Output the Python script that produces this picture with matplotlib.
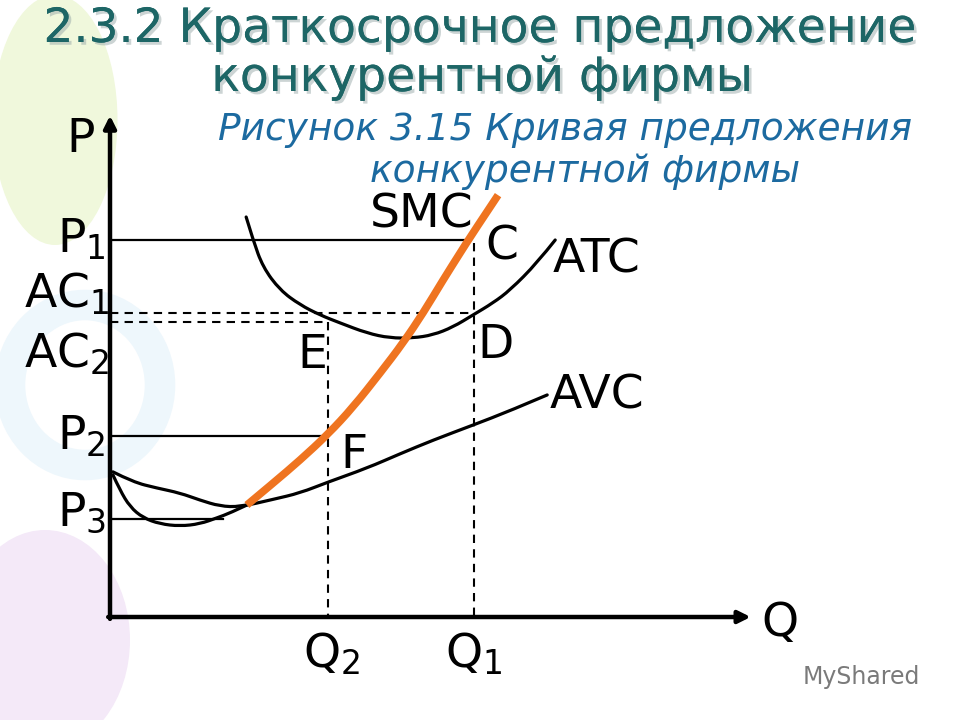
import matplotlib
matplotlib.use("Agg")
import matplotlib.pyplot as plt
import matplotlib.patheffects as pe
from matplotlib.patches import Ellipse, PathPatch
from matplotlib.path import Path

plt.rcParams["font.family"] = ["DejaVu Sans"]
plt.rcParams["mathtext.fontset"] = "dejavusans"

# curves (Q, P)
atc_q = [3.74, 3.93, 4.20, 4.67, 5.22, 5.77, 6.32, 7.06, 7.69, 8.32, 8.87, 9.42, 9.97, 10.52, 10.99, 11.73, 12.23]
atc_p = [10.61, 10.0, 9.28, 8.67, 8.28, 8.01, 7.80, 7.53, 7.40, 7.40, 7.48, 7.69, 8.01, 8.33, 8.67, 9.39, 10.0]

smc_q = [3.76, 4.48, 5.22, 5.99, 6.68, 7.42, 8.05, 8.60, 9.15, 9.62, 9.97, 10.66]
smc_p = [2.97, 3.55, 4.16, 4.85, 5.57, 6.47, 7.27, 8.06, 8.94, 9.66, 10.19, 11.19]

mc_low_q = [0.08, 0.27, 0.55, 0.91, 1.37, 1.92, 2.47, 2.94, 3.30, 3.76]
mc_low_p = [3.77, 3.37, 2.92, 2.63, 2.47, 2.41, 2.47, 2.63, 2.76, 2.97]

avc_q = [0.08, 0.63, 1.29, 1.92, 2.47, 3.02, 3.57, 4.48, 5.22, 5.99, 7.06, 7.97, 8.87, 9.97, 10.99, 12.01]
avc_p = [3.85, 3.58, 3.42, 3.29, 3.10, 2.94, 2.92, 3.12, 3.29, 3.58, 3.95, 4.33, 4.69, 5.09, 5.47, 5.89]

# price levels and quantities
P1, AC1, AC2, P2, P3 = 10.0, 8.06, 7.82, 4.80, 2.60
Q1, Q2 = 10.0, 6.0
P1_END, P3_END = 9.89, 3.1
P_TOP, Q_END = 13.3, 17.6

ORANGE = "#ef7420"
TEAL = "#1d6666"
BLUE = "#1c6aa0"


def main():
    fig = plt.figure(figsize=(9.6, 7.2), dpi=100)
    draw_background(fig)
    ax = fig.add_axes([0, 0, 1, 1])
    ax.set_xlim(-3.022, 23.35)
    ax.set_ylim(-2.732, 16.366)
    ax.axis("off")
    ax.patch.set_alpha(0)

    plot_data(ax)
    set_labels(ax)
    set_titles(fig)
    plt.savefig("out.png", dpi=100)


def draw_background(fig):
    bg = fig.add_axes([0, 0, 1, 1], zorder=-1)
    bg.set_xlim(0, 960)
    bg.set_ylim(720, 0)
    bg.axis("off")
    bg.add_patch(Ellipse((55, 120), 125, 250, color="#f0f8dc", lw=0))
    bg.add_patch(Ellipse((85, 385), 150, 160, fill=False, ec="#eef7fc", lw=22))
    bg.add_patch(Ellipse((45, 640), 170, 220, color="#f4e9f8", lw=0))


def smooth_curve(ax, xs, ys, **kw):
    # quadratic bezier through midpoints, drawn by matplotlib's Path
    pts = list(zip(xs, ys))
    verts = [pts[0]]
    codes = [Path.MOVETO]
    for i in range(1, len(pts) - 1):
        mid = ((pts[i][0] + pts[i + 1][0]) / 2, (pts[i][1] + pts[i + 1][1]) / 2)
        if i == len(pts) - 2:
            mid = pts[-1]
        verts += [pts[i], mid]
        codes += [Path.CURVE3, Path.CURVE3]
    ax.add_patch(PathPatch(Path(verts, codes), fill=False, **kw))


def plot_data(ax):
    # axes with arrows
    arrow = dict(arrowstyle="-|>", lw=3.2, color="black", mutation_scale=18, shrinkA=0, shrinkB=0)
    ax.annotate("", xy=(0, P_TOP), xytext=(0, -0.05), arrowprops=arrow)
    ax.annotate("", xy=(Q_END, 0), xytext=(-0.05, 0), arrowprops=arrow)

    # solid price lines
    ax.plot([0, P1_END], [P1, P1], color="black", lw=1.6)
    ax.plot([0, Q2], [P2, P2], color="black", lw=1.6)
    ax.plot([0, P3_END], [P3, P3], color="black", lw=1.6)

    # dashed guides
    dash = (0, (4, 3))
    ax.plot([0, Q1], [AC1, AC1], color="black", lw=1.5, ls=dash)
    ax.plot([0, Q2], [AC2, AC2], color="black", lw=1.5, ls=dash)
    ax.plot([Q1, Q1], [9.92, 0], color="black", lw=1.5, ls=dash)
    ax.plot([Q2, Q2], [AC2, 0], color="black", lw=1.5, ls=dash)

    # cost curves
    smooth_curve(ax, atc_q, atc_p, ec="black", lw=2.3, capstyle="round")
    smooth_curve(ax, avc_q, avc_p, ec="black", lw=2.3, capstyle="round")
    smooth_curve(ax, mc_low_q, mc_low_p, ec="black", lw=2.3, capstyle="round")
    smooth_curve(ax, smc_q, smc_p, ec=ORANGE, lw=5.5, capstyle="butt", zorder=5)


def set_labels(ax):
    kw = dict(fontsize=34, color="black", va="baseline")
    ax.text(-0.82, 12.33, "P", ha="center", **kw)
    ax.text(18.41, -0.50, "Q", ha="center", **kw)
    ax.text(-0.11, 9.68, r"$\mathrm{P}_1$", ha="right", **kw)
    ax.text(-0.02, 8.20, r"$\mathrm{AC}_1$", ha="right", **kw)
    ax.text(-0.02, 6.63, r"$\mathrm{AC}_2$", ha="right", **kw)
    ax.text(-0.11, 4.43, r"$\mathrm{P}_2$", ha="right", **kw)
    ax.text(-0.11, 2.44, r"$\mathrm{P}_3$", ha="right", **kw)
    ax.text(5.30, -1.35, r"$\mathrm{Q}_2$", ha="left", **kw)
    ax.text(9.20, -1.35, r"$\mathrm{Q}_1$", ha="left", **kw)
    ax.text(7.14, 10.32, "SMC", ha="left", **kw)
    ax.text(10.30, 9.47, "C", ha="left", **kw)
    ax.text(12.17, 9.15, "ATC", ha="left", **kw)
    ax.text(10.08, 6.87, "D", ha="left", **kw)
    ax.text(5.14, 6.60, "E", ha="left", **kw)
    ax.text(12.09, 5.54, "AVC", ha="left", **kw)
    ax.text(6.32, 3.95, "F", ha="left", **kw)


def set_titles(fig):
    shadow = [pe.withSimplePatchShadow(offset=(2, -2), shadow_rgbFace="#9aaaaa", alpha=0.5), pe.Normal()]
    fig.text(480 / 960, 1 - 42 / 720, "2.3.2 Краткосрочное предложение", ha="center", va="baseline",
             fontsize=34, color=TEAL, path_effects=shadow)
    fig.text(482 / 960, 1 - 91 / 720, "конкурентной фирмы", ha="center", va="baseline",
             fontsize=34, color=TEAL, path_effects=shadow)
    fig.text(565 / 960, 1 - 140 / 720, "Рисунок 3.15 Кривая предложения", ha="center", va="baseline",
             fontsize=27, color=BLUE, style="italic")
    fig.text(585 / 960, 1 - 182 / 720, "конкурентной фирмы", ha="center", va="baseline",
             fontsize=27, color=BLUE, style="italic")
    fig.text(920 / 960, 1 - 684 / 720, "MyShared", ha="right", va="baseline",
             fontsize=17, color="#7a7a7a")


if __name__ == "__main__":
    main()
